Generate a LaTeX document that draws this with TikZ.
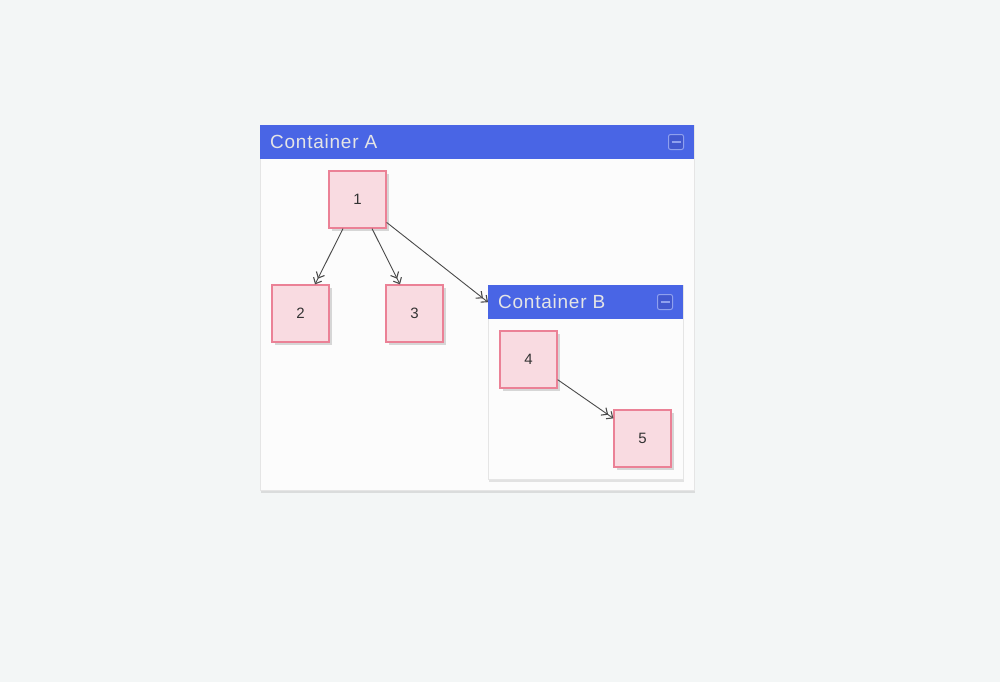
\documentclass[tikz,border=0pt]{standalone}
\usepackage{fontspec}
\setmainfont{Liberation Sans}
\newfontfamily\headfont[LetterSpace=4]{Liberation Sans}
\usetikzlibrary{arrows.meta,shadows}
\definecolor{pagebg}{HTML}{F3F6F6}
\definecolor{headblue}{HTML}{4965E5}
\definecolor{iconblue}{HTML}{8FA0EE}
\definecolor{iconfill}{HTML}{4258CF}
\definecolor{boxfill}{HTML}{F9DBE1}
\definecolor{boxline}{HTML}{EB8196}
\definecolor{edgegray}{HTML}{4A4A4A}

\tikzset{
  item/.style={draw=boxline, fill=boxfill, line width=1.2pt, minimum size=57pt, inner sep=0pt,
    font=\fontsize{15}{17}\selectfont, text=black!80,
    drop shadow={shadow xshift=3pt, shadow yshift=-3pt, fill=black, opacity=0.15}},
  group/.style={draw=black!10, fill=white!98!gray, line width=0.8pt, inner sep=0pt,
    drop shadow={shadow xshift=1pt, shadow yshift=-3pt, fill=black, opacity=0.1}},
  head/.style={fill=headblue, inner sep=0pt, anchor=north west, minimum height=34pt},
  headtext/.style={anchor=west, inner sep=0pt, text=white!90!black, font=\headfont\fontsize{19}{22}\selectfont},
  fold/.style={draw=iconblue, fill=iconfill, line width=1pt, rounded corners=2pt, minimum size=15pt, inner sep=0pt},
  link/.style={draw=edgegray, line width=0.9pt, -{Straight Barb[length=5pt,width=9pt,line width=1.1pt]Straight Barb[length=5pt,width=9pt,line width=1.1pt]}}
}

\begin{document}
\begin{tikzpicture}[x=1pt,y=-1pt]
		\useasboundingbox[fill=pagebg] (0,0) rectangle (1000,682); % page
		% container A
		\node[group, minimum width=434pt, minimum height=365pt, anchor=north west] (cA) at (260,125) {};
		\node[head, minimum width=434pt] (hA) at (260,125) {};
		\node[headtext] (tA) at ([xshift=10pt]hA.west) {Container A};
		\node[fold] (fA) at (676,142) {};
		\draw[iconblue, line width=1.8pt] ([xshift=-4.5pt]fA.center) -- ([xshift=4.5pt]fA.center);
		% container B
		\node[group, minimum width=195pt, minimum height=194pt, anchor=north west] (cB) at (488,285) {};
		\node[head, minimum width=195pt] (hB) at (488,285) {};
		\node[headtext] (tB) at ([xshift=10pt]hB.west) {Container B};
		\node[fold] (fB) at (665,302) {};
		\draw[iconblue, line width=1.8pt] ([xshift=-4.5pt]fB.center) -- ([xshift=4.5pt]fB.center);
		% the items, edit here for positions
		\foreach \n/\x/\y in {1/357.5/199.5, 2/300.5/313.5, 3/414.5/313.5, 4/528.5/359.5, 5/642.5/438.5}
		\node[item] (n\n) at (\x,\y) {\n};
		% edges
		\foreach \a/\b in {n1/n2, n1/n3, n1/hB.west, n4/n5}
		\draw[link] (\a) -- (\b);
\end{tikzpicture}
\end{document}
